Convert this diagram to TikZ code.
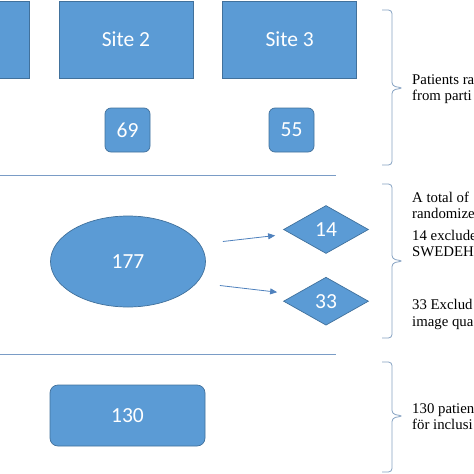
\documentclass[tikz,border=0pt]{standalone}
\usepackage{fontspec}
\setmainfont{Liberation Serif}
\newfontfamily\boxfont{Carlito}
\usepackage{tikz}
\usetikzlibrary{positioning}
\usetikzlibrary{shapes.geometric}
\usetikzlibrary{arrows.meta}
\definecolor{officeblue}{HTML}{5B9BD5}
\definecolor{officeedge}{HTML}{41719C}
\definecolor{ruleblue}{HTML}{7A9CC6}
\definecolor{bracegray}{HTML}{86A2C2}
\definecolor{arrowblue}{HTML}{4F81BD}

\begin{document}
\begin{tikzpicture}[x=1pt, y=-1pt,
    blue shape/.style={draw=officeedge, fill=officeblue, line width=0.7pt, text=white, inner sep=0pt, font=\boxfont\fontsize{21.5}{25}\selectfont},
    sitebox/.style={blue shape, minimum width=134pt, minimum height=77pt},
    countbox/.style={blue shape, rounded corners=6pt},
    excl/.style={blue shape, diamond, minimum width=85pt, minimum height=48pt},
    note/.style={anchor=west, align=left, inner sep=0pt, font=\fontsize{14.8}{16.5}\selectfont},
    bracepen/.style={draw=bracegray, line width=0.8pt, rounded corners=3.5pt},
    sep/.style={draw=ruleblue, line width=0.9pt},
    flow/.style={draw=arrowblue, line width=0.8pt, -{Triangle[length=7pt, width=6pt]}}]
    \useasboundingbox (0,0) rectangle (474,474);
    \clip (0,0) rectangle (474,474);

        % sites
        \node [sitebox] (site2) at (126,39.5) {Site 2};
        \node [sitebox, right=29pt of site2] (site3) {Site 3};
        \node [sitebox, left=29pt of site2] (site1) {};

        \node [countbox, minimum width=45pt, minimum height=44pt] (n69) at (127.5,130) {69};
        \node [countbox, minimum width=45pt, minimum height=44pt] (n55) at (291.5,130) {55};

        \draw [sep] (0,175) -- (336,175);

        % exclusions
        \node [blue shape, ellipse, minimum width=155pt, minimum height=91pt] (n177) at (128,261.5) {177};
        \node [excl] (n14) at (326,229.5) {14};
        \node [excl, below=23pt of n14] (n33) {33};

        \draw [flow] ([shift={(17,-20)}]n177.east) -- ([shift={(-8,6)}]n14.west);
        \draw [flow] ([shift={(14,24)}]n177.east) -- ([shift={(-6,-9)}]n33.west);

        \draw [sep] (0,354) -- (336,354);

        \node [countbox, rounded corners=8pt, minimum width=155pt, minimum height=61pt] (n130) at (127.5,415.5) {130};

        % braces and notes
        \draw [bracepen] (382,10) -- (392,10) -- (392,86) -- (403,88) -- (392,90) -- (392,165) -- (382,165);
        \draw [bracepen] (382,184) -- (392,184) -- (392,259) -- (403,261) -- (392,263) -- (392,338) -- (382,338);
        \draw [bracepen] (382,362) -- (392,362) -- (392,414) -- (403,416) -- (392,418) -- (392,472) -- (382,472);

        \node [note] (sites note) at (412,89) {Patients ra\\from parti};
        \node [note] (total note) at (412,205.5) {A total of\\randomize};
        \node [note] (swedeh note) at (412,243.5) {14 exclude\\SWEDEH};
        \node [note] (image note) at (412,314.5) {33 Exclud\\image qua};
        \node [note] (incl note) at (412,416.5) {130 patien\\för inclusi};

\end{tikzpicture}
\end{document}
